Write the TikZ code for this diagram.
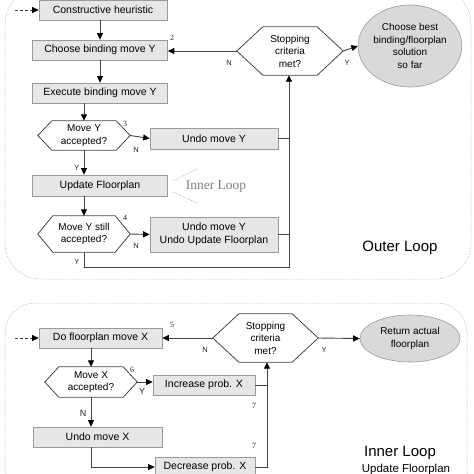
\documentclass[tikz,border=0pt]{standalone}
\usepackage{fontspec}
\setmainfont{Liberation Sans}
\newfontfamily\serifff{Liberation Serif}
\usetikzlibrary{arrows.meta,shapes.geometric}
\definecolor{boxfill}{HTML}{E6E6E6}
\definecolor{boxline}{HTML}{9A9A9A}
\definecolor{lnc}{HTML}{454545}
\definecolor{ellfill}{HTML}{D9D9D9}
\definecolor{loopc}{HTML}{B5B5B5}
\newcommand\hexnode[6]{%
  \node[hexbase,minimum width=#3,minimum height=#4] (#1) at (#2) {#6};
  \draw[hexline] (#1.west) -- ([xshift=#5]#1.north west) -- ([xshift=-#5]#1.north east)
    -- (#1.east) -- ([xshift=-#5]#1.south east) -- ([xshift=#5]#1.south west) -- cycle;}
\tikzset{
  procbox/.style={draw=boxline,fill=boxfill,line width=0.7pt,inner sep=1pt,align=center,
    font=\fontsize{10.5}{12.5}\selectfont},
  hexbase/.style={inner sep=0pt,align=center,font=\fontsize{10}{12.5}\selectfont},
  hexline/.style={draw=lnc,line width=0.8pt,fill=none},
  termell/.style={ellipse,draw=boxline,fill=ellfill,line width=0.6pt,inner sep=0pt,align=center,
    font=\fontsize{10}{12.5}\selectfont},
  conn/.style={draw=lnc,line width=0.9pt},
  arr/.style={conn,-{Triangle[length=6.5pt,width=6pt,fill=black,color=black]}},
  darr/.style={arr,dash pattern=on 3pt off 2pt},
  yn/.style={font=\fontsize{7.5}{8}\selectfont,text=black!85},
  num/.style={font=\serifff\fontsize{8}{9}\selectfont,text=black!85},
  loopbox/.style={draw=loopc,line width=0.5pt,dash pattern=on 1.6pt off 1.2pt},
  looplabel/.style={font=\fontsize{15}{17}\selectfont,anchor=center},
}
\begin{document}
\begin{tikzpicture}[x=1pt,y=-1pt]
\useasboundingbox (0,0) rectangle (474,474);
\clip (0,0) rectangle (474,474);
% loop frames
\draw[loopbox,rounded corners=36] (5,-12) rectangle (471,279);
\draw[loopbox,rounded corners=30] (5,303) rectangle (467,540);

% ---------- outer loop ----------
\node[procbox,minimum width=128,minimum height=20] (ch) at (103,10) {Constructive heuristic};
\node[procbox,minimum width=135,minimum height=20] (cb) at (100,50) {Choose binding move Y};
\node[procbox,minimum width=135,minimum height=20] (eb) at (100,93) {Execute binding move Y};
\hexnode{h3}{84,135.5}{92}{29}{14}{Move Y\\accepted?}
\node[procbox,minimum width=128,minimum height=21] (u3) at (214,138.5) {Undo move Y};
\node[procbox,minimum width=135,minimum height=21] (uf) at (100,185.5) {Update Floorplan};
\hexnode{h4}{84,234}{92}{36}{15}{Move Y still\\accepted?}
\node[procbox,minimum width=128,minimum height=35] (u4) at (214,234.5) {Undo move Y\\Undo Update Floorplan};
\hexnode{sc1}{290,51}{106}{48}{26}{Stopping\\criteria\\met?}
\node[termell,minimum width=100,minimum height=82] (best) at (410,46) {Choose best\\binding/floorplan\\solution\\so far};

\coordinate (s1) at (15,10);
\draw[darr] (s1) -- (ch.west);
\draw[arr] (ch.south -| cb.north) -- (cb.north);
\draw[arr] (cb.south) -- (eb.north);
\draw[arr] (eb.south -| h3.north) -- (h3.north);
\draw[arr] (h3.east) -- (u3.west);
\draw[arr] (h3.south) -- (h3.south |- uf.north);
\draw[arr] (uf.south -| h4.north) -- (h4.north);
\draw[arr] (h4.east) -- (u4.west);
\coordinate (rv) at (289,267);
\draw[conn] (u3.east) -- (u3.east -| rv);
\draw[conn] (u4.east) -- (u4.east -| rv);
\draw[arr] (h4.south) -- (h4.south |- rv) -- (rv) -- (rv |- sc1.south);
\draw[arr] (sc1.west) -- (sc1.west -| cb.east);
\draw[arr] (sc1.east) -- (best.west);

\node[yn] (n1) at (229,63) {N};
\node[yn] (y1) at (347,63) {Y};
\node[yn] (n3) at (136,150) {N};
\node[yn] (y3) at (77,168) {Y};
\node[yn] (n4) at (136,246) {N};
\node[yn] (y4) at (77,262) {Y};
\node[num] (k2) at (172,38) {2};
\node[num] (k3) at (125,124) {3};
\node[num] (k4) at (125,218) {4};

% inner loop hint
\node[font=\serifff\fontsize{13.5}{15}\selectfont,text=black!50] (il) at (216,187) {Inner Loop};
\coordinate (il1) at (173,181);
\coordinate (il2) at (197,169);
\coordinate (il3) at (173,192);
\coordinate (il4) at (197,203);
\draw[loopbox,line width=0.6pt] (il1) -- (il2);
\draw[loopbox,line width=0.6pt] (il3) -- (il4);

\node[looplabel] (ol) at (400,248) {Outer Loop};

% ---------- inner loop ----------
\node[procbox,minimum width=123,minimum height=20] (dm) at (100.5,338) {Do floorplan move X};
\hexnode{sc2}{265.5,338}{105}{48}{26}{Stopping\\criteria\\met?}
\node[termell,minimum width=100,minimum height=47] (ret) at (410,338.5) {Return actual\\floorplan};
\hexnode{h6}{91,382}{92}{30}{14}{Move X\\accepted?}
\node[procbox,minimum width=102,minimum height=20] (inc) at (204,385) {Increase prob. X};
\node[procbox,minimum width=129,minimum height=20] (ux) at (97.5,437) {Undo move X};
\node[procbox,minimum width=100,minimum height=20] (dec) at (205,467) {Decrease prob. X};

\coordinate (s2) at (15,338);
\draw[darr] (s2) -- (dm.west);
\draw[arr] (dm.south -| h6.north) -- (h6.north);
\draw[arr] (h6.east) -- (h6.east -| inc.west);
\draw[arr] (h6.south) -- (h6.south |- ux.north);
\draw[arr] (ux.south -| h6.south) -- (h6.south |- dec.west) -- (dec.west);
\coordinate (rv2) at (267,467);
\draw[conn] (inc.east) -- (inc.east -| rv2);
\draw[arr] (dec.east) -- (rv2) -- (rv2 |- sc2.south);
\draw[arr] (sc2.west) -- (sc2.west -| dm.east);
\draw[arr] (sc2.east) -- (ret.west);

\node[yn] (n5) at (205,350) {N};
\node[yn] (y5) at (324,350) {Y};
\node[yn,font=\fontsize{9}{10}\selectfont] (y6) at (142,391) {Y};
\node[yn,font=\fontsize{9}{10}\selectfont] (n6) at (83,413) {N};
\node[num] (k5) at (172,325) {5};
\node[num] (k6) at (132,370) {6};
\node[num] (k7a) at (254,406) {7};
\node[num] (k7b) at (254,446) {7};

\node[looplabel] (inl) at (400,453) {Inner Loop};
\node[font=\fontsize{11.5}{13}\selectfont] (inl2) at (406,470) {Update Floorplan};
\end{tikzpicture}
\end{document}
